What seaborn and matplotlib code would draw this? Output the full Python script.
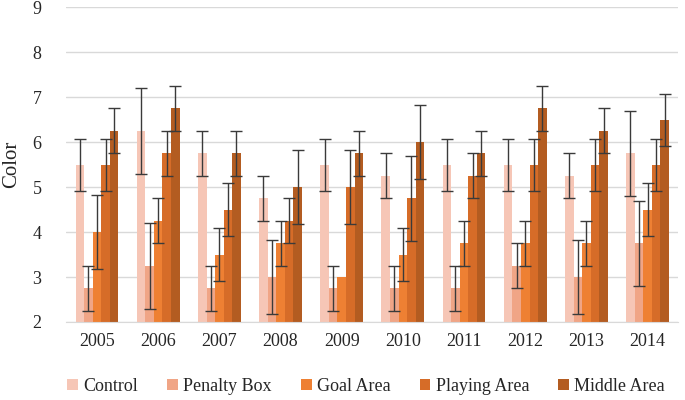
import pandas as pd
import numpy as np
from matplotlib import pyplot as plt
import seaborn as sns

# values
years = ["2005", "2006", "2007", "2008", "2009", "2010", "2011", "2012", "2013", "2014"]
areas = ["Control", "Penalty Box", "Goal Area", "Playing Area", "Middle Area"]

control = [5.5, 6.25, 5.75, 4.75, 5.5, 5.25, 5.5, 5.5, 5.25, 5.75]
penalty_box = [2.75, 3.25, 2.75, 3.0, 2.75, 2.75, 2.75, 3.25, 3.0, 3.75]
goal_area = [4.0, 4.25, 3.5, 3.75, 3.0, 3.5, 3.75, 3.75, 3.75, 4.5]
playing_area = [5.5, 5.75, 4.5, 4.25, 5.0, 4.75, 5.25, 5.5, 5.5, 5.5]
middle_area = [6.25, 6.75, 5.75, 5.0, 5.75, 6.0, 5.75, 6.75, 6.25, 6.5]

control_err = [0.58, 0.95, 0.5, 0.5, 0.58, 0.5, 0.58, 0.58, 0.5, 0.95]
penalty_box_err = [0.5, 0.95, 0.5, 0.82, 0.5, 0.5, 0.5, 0.5, 0.82, 0.95]
goal_area_err = [0.82, 0.5, 0.58, 0.5, 0.0, 0.58, 0.5, 0.5, 0.5, 0.58]
playing_area_err = [0.58, 0.5, 0.58, 0.5, 0.82, 0.95, 0.5, 0.58, 0.58, 0.58]
middle_area_err = [0.5, 0.5, 0.5, 0.82, 0.5, 0.82, 0.5, 0.5, 0.5, 0.58]

colors = ["#F6C6B6", "#F0A586", "#EE8033", "#D66C28", "#B35C21"]

values = [control, penalty_box, goal_area, playing_area, middle_area]
errors = [control_err, penalty_box_err, goal_area_err, playing_area_err, middle_area_err]

rows = []
for a, vals in zip(areas, values):
    for y, v in zip(years, vals):
        rows.append({"year": y, "area": a, "value": v})
df = pd.DataFrame(rows)

sns.set_style("white")
plt.rcParams['font.family'] = ['Liberation Serif', 'DejaVu Serif']

fig, ax = plt.subplots(figsize=(6.85, 4.0), dpi=100)
fig.subplots_adjust(left=0.097, right=0.99, bottom=0.195, top=0.982)

sns.barplot(data=df, x="year", y="value", hue="area", hue_order=areas,
            palette=colors, width=0.7, errorbar=None, saturation=1,
            linewidth=0, ax=ax)

# error bars on each bar
for cont, errs in zip(ax.containers, errors):
    for bar, e in zip(cont, errs):
        if e <= 0:
            continue
        xc = bar.get_x() + bar.get_width() / 2
        ax.errorbar(xc, bar.get_height(), yerr=e, fmt="none", ecolor="#3a3a3a",
                    elinewidth=1, capsize=4.5, capthick=1, zorder=5)

ax.set_ylim(2, 9)
ax.set_xlim(-0.5, len(years) - 0.5)
ax.set_yticks(range(2, 10))
ax.yaxis.grid(True, color="#d9d9d9", linewidth=1)
ax.set_axisbelow(True)
for s in ax.spines.values():
    s.set_visible(False)
ax.spines["bottom"].set_visible(True)
ax.spines["bottom"].set_color("#d9d9d9")
ax.tick_params(axis="both", length=0, labelsize=13, pad=8)
ax.tick_params(axis="y", pad=18)
ax.set_xlabel("")
ax.set_ylabel("Color", fontsize=15, labelpad=8)

ax.legend(loc="upper center", bbox_to_anchor=(0.49, -0.125), ncol=5, frameon=False,
          fontsize=13, handlelength=0.6, handleheight=0.6, handletextpad=0.3,
          columnspacing=1.6)

plt.savefig("out.png", dpi=100)
